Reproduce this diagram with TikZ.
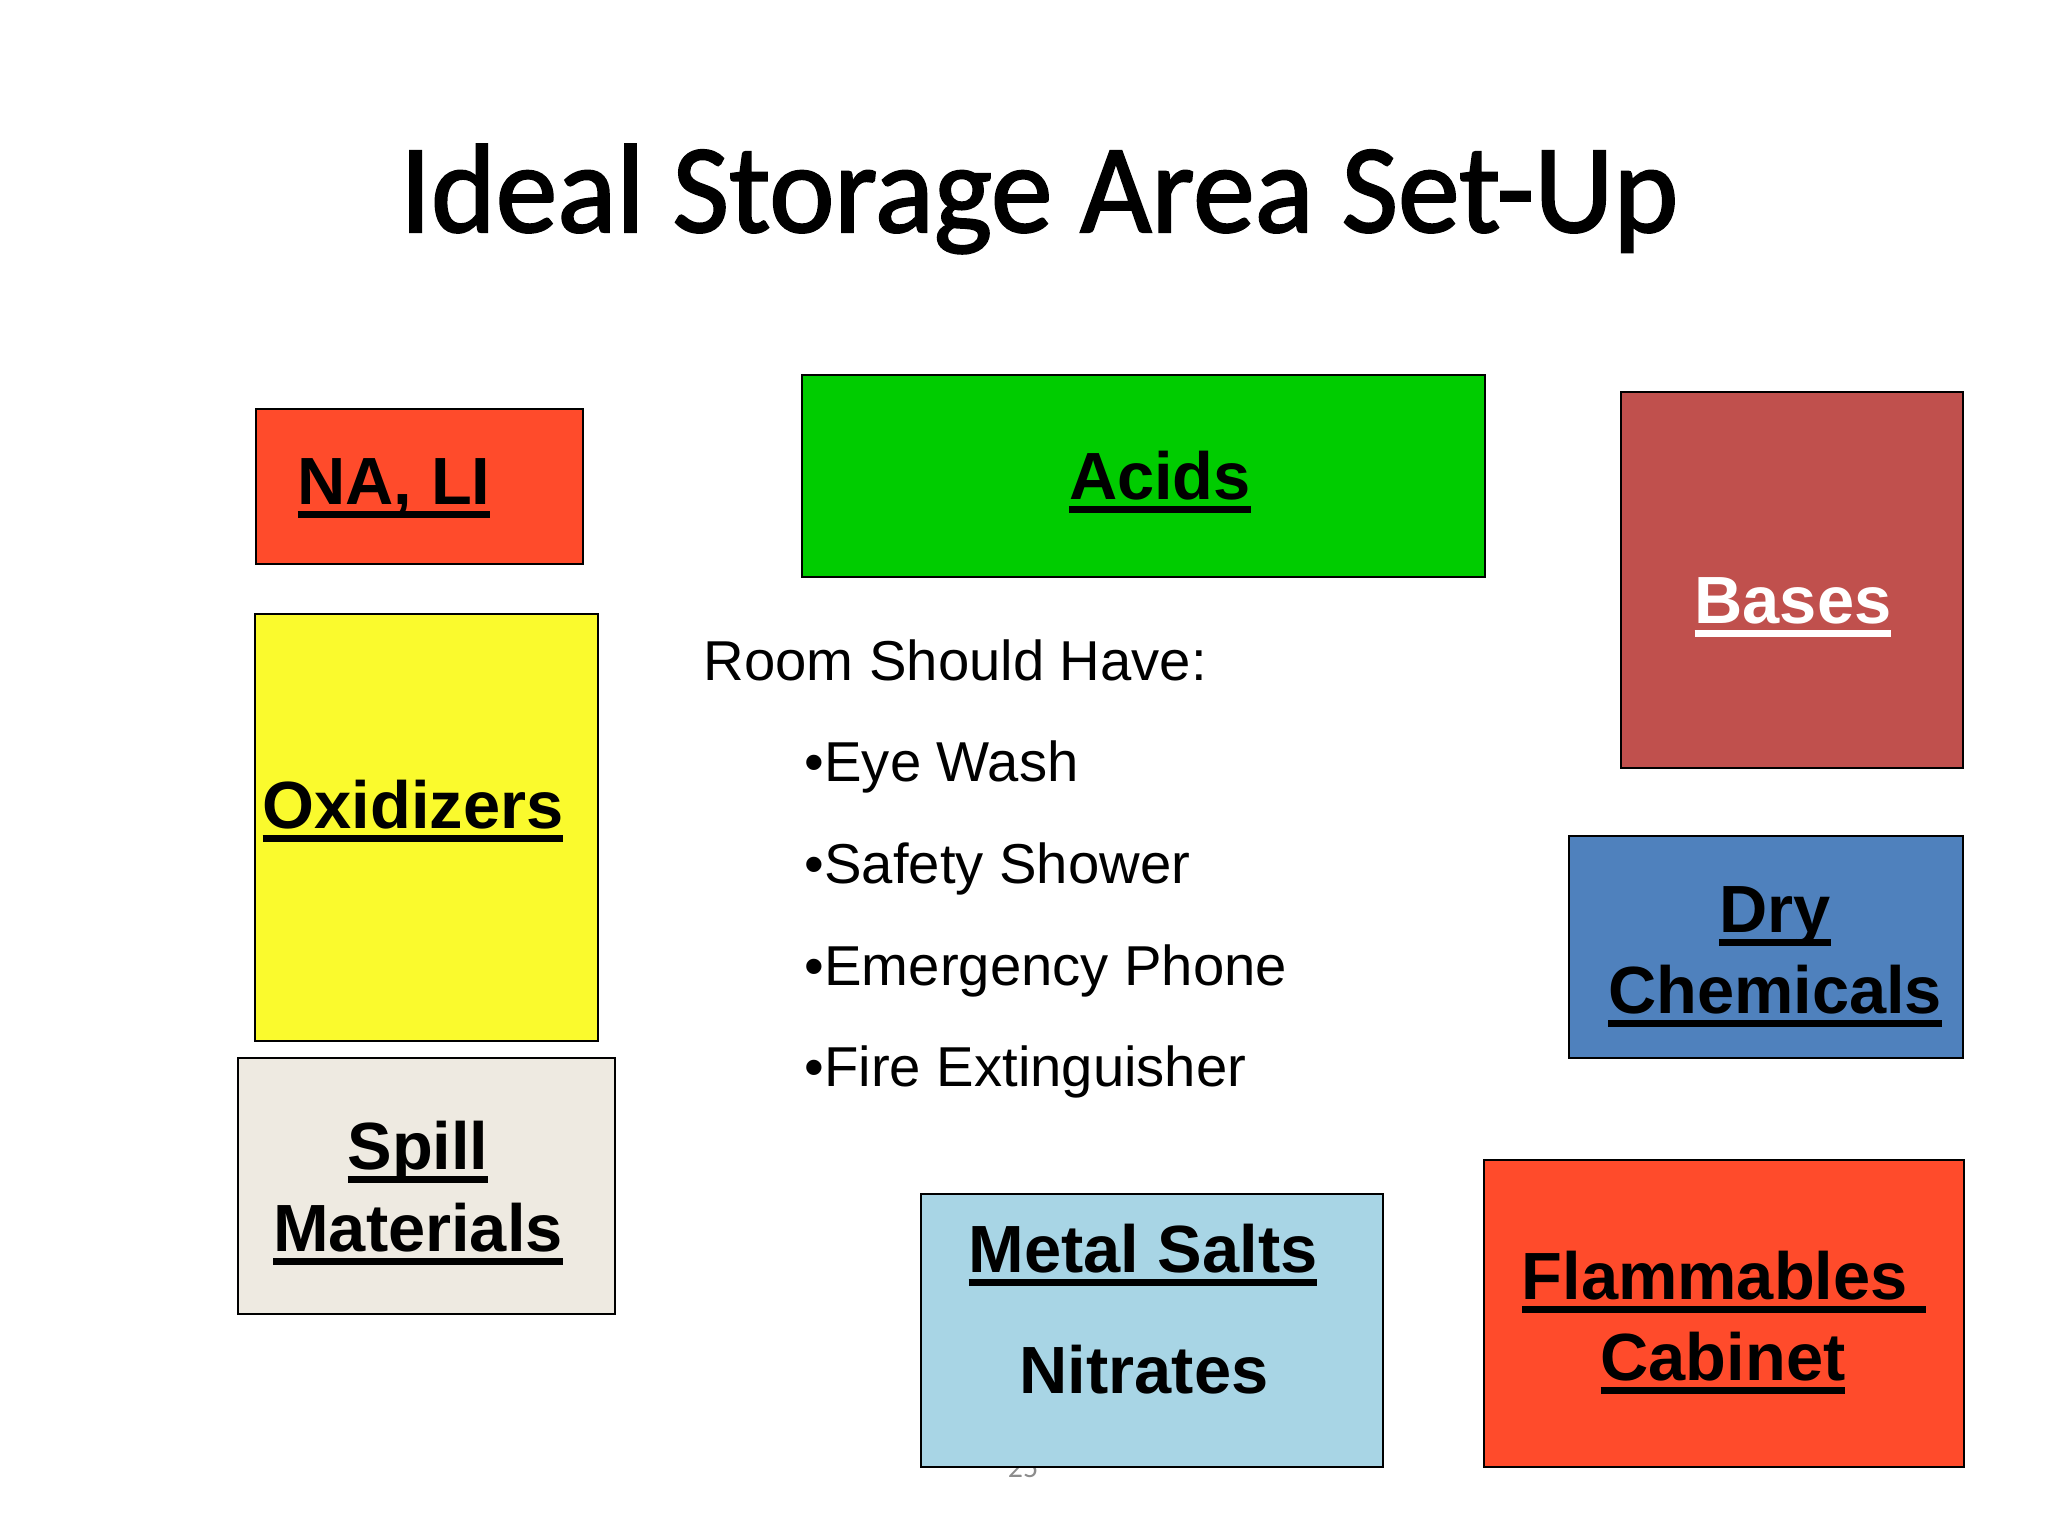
\documentclass[tikz,border=0pt]{standalone}
\usepackage{fontspec}
\setmainfont{Liberation Sans}
\newfontfamily\titlefont[FakeStretch=0.975, FakeBold=1.6]{Carlito}
\newfontfamily\pagefont{Carlito}

\definecolor{redorange}{RGB}{255,75,43}
\definecolor{acidgreen}{RGB}{0,204,0}
\definecolor{basered}{RGB}{192,80,77}
\definecolor{oxyellow}{RGB}{250,250,45}
\definecolor{spillgray}{RGB}{238,234,225}
\definecolor{dryblue}{RGB}{79,129,189}
\definecolor{saltblue}{RGB}{168,213,229}

\newcommand{\ulabel}[1]{\setbox0=\hbox{#1}\rlap{\rule[-3.85pt]{\wd0}{1.85pt}}\box0}

\tikzset{
  bin/.style={draw=black, line width=0.6pt},
  lbl/.style={inner sep=0pt, anchor=base, font=\fontsize{19pt}{23pt}\selectfont\bfseries},
  item/.style={inner sep=0pt, anchor=base west, font=\fontsize{16pt}{19pt}\selectfont},
}

\begin{document}
\begin{tikzpicture}[x=0.1mm, y=-0.1mm]
\useasboundingbox (0,0) rectangle (2048,1536);

\node[inner sep=0pt, anchor=base, font=\titlefont\fontsize{36pt}{40pt}\selectfont] (title) at (1039,232) {Ideal Storage Area Set-Up};

% page number, half hidden under the salts box
\node[inner sep=0pt, anchor=base, text=gray!90, font=\pagefont\fontsize{8.5pt}{10pt}\selectfont] (pagenum) at (1023,1477) {25};

% storage bins
\filldraw[bin, fill=redorange] (256,409) rectangle (583,564);
\filldraw[bin, fill=acidgreen] (802,375) rectangle (1485,577);
\filldraw[bin, fill=basered] (1621,392) rectangle (1963,768);
\filldraw[bin, fill=oxyellow] (255,614) rectangle (598,1041);
\filldraw[bin, fill=spillgray] (238,1058) rectangle (615,1314);
\filldraw[bin, fill=dryblue] (1569,836) rectangle (1963,1058);
\filldraw[bin, fill=saltblue] (921,1194) rectangle (1383,1467);
\filldraw[bin, fill=redorange] (1484,1160) rectangle (1964,1467);

\node[lbl] (nali) at (394,504) {\ulabel{NA, LI}};
\node[lbl] (acids) at (1160,499) {\ulabel{Acids}};
\node[lbl, text=white] (bases) at (1793,623) {\ulabel{Bases}};
\node[lbl] (oxid) at (413,828) {\ulabel{Oxidizers}};
\node[lbl] (spill) at (418,1169) {\ulabel{Spill}};
\node[lbl] (spillmat) at (418,1251) {\ulabel{Materials}};
\node[lbl] (dry) at (1775,932) {\ulabel{Dry}};
\node[lbl] (drychem) at (1775,1013) {\ulabel{Chemicals}};
\node[lbl] (metal) at (1143,1272) {\ulabel{Metal Salts}};
\node[lbl] (nitrates) at (1144,1393) {Nitrates};
\node[lbl] (flam) at (1724,1299) {\ulabel{Flammables\ }};
\node[lbl] (flamcab) at (1723,1380) {\ulabel{Cabinet}};

% room list
\node[item] (room) at (703,680) {Room Should Have:};
\foreach \t [count=\i] in {Eye Wash, Safety Shower, Emergency Phone, Fire Extinguisher} {
  \node[item] (item\i) at (804,{680+101.7*\i}) {•\t};
}

\end{tikzpicture}
\end{document}
